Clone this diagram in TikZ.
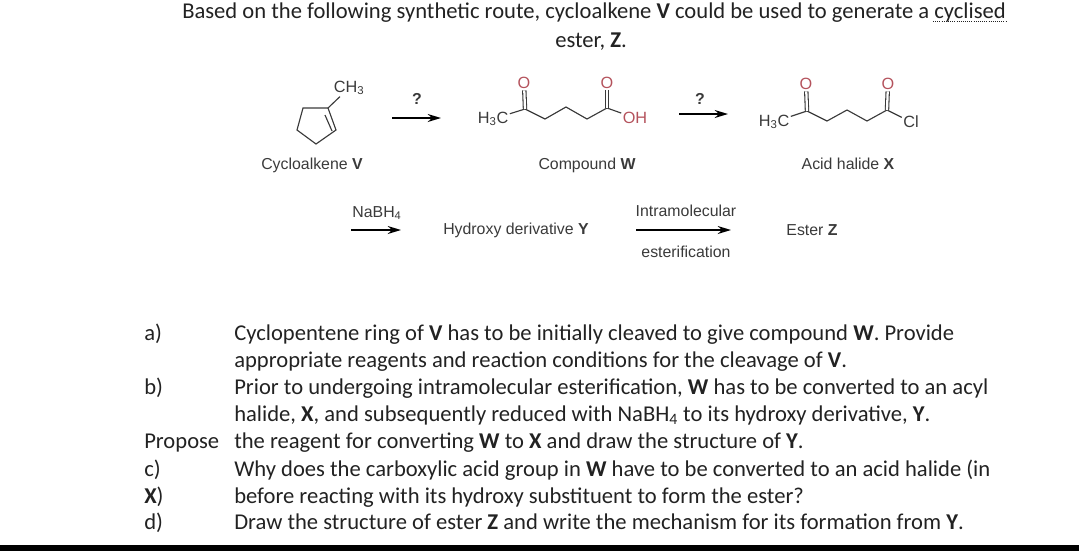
\documentclass[tikz,border=0pt]{standalone}
\usepackage{fontspec}
\setmainfont{Carlito}
\newfontfamily\chemfont{Liberation Sans}
\usetikzlibrary{arrows.meta}
\definecolor{inkgray}{HTML}{222222}
\definecolor{chemgray}{HTML}{3A3A3A}
\definecolor{oxred}{HTML}{B4525C}
\tikzset{
bodytext/.style={anchor=base west,inner sep=0pt,text=inkgray,font=\fontsize{16.95}{20}\selectfont},
chemtext/.style={inner sep=0pt,text=chemgray,font=\chemfont\fontsize{11.9}{14}\selectfont},
atomred/.style={inner sep=1pt,text=oxred,font=\chemfont\fontsize{12.2}{14}\selectfont},
atomgray/.style={inner sep=1pt,text=chemgray,font=\chemfont\fontsize{12.2}{14}\selectfont},
bond/.style={line width=.85pt,draw=chemgray},
dbond/.style={line width=.8pt,draw=chemgray,double=white,double distance=1.7pt},
rxn/.style={line width=1.1pt,draw=black,-{Stealth[length=10pt,width=6pt]}}
}
\begin{document}
\begin{tikzpicture}[x=.75pt,y=-.75pt]
\useasboundingbox (0,0)rectangle(1079,551);
\fill[black] (0,545)rectangle(1079,551);
\node[bodytext] (title1) at (182,18) {Based on the following synthetic route, cycloalkene \textbf{V} could be used to generate a cyclised};
\node[bodytext] (title2) at (555,47) {ester, \textbf{Z}.};
\draw[densely dotted,line width=.6pt,draw=inkgray] (title1.base east)++(-73,3)coordinate(sp1)--++(73,0)coordinate(sp2);
\coordinate (v1) at (328,108);
\coordinate (v2) at (336,130);
\coordinate (v3) at (316,144);
\coordinate (v4) at (297,130);
\coordinate (v5) at (303,108);
\coordinate (v6) at (325,115);
\coordinate (v7) at (332,131);
\node[atomgray] (me) at (349,88) {CH\textsubscript{3}};
\draw[bond] (v1)--(v2)--(v3)--(v4)--(v5)--(v1);
\draw[bond] (v1)--(me);
\draw[bond] (v6)--(v7);
\node[chemtext] (vname) at (312,165) {Cycloalkene \textbf{V}};
\coordinate (a1) at (392,118);
\coordinate (a2) at (441,118);
\draw[rxn] (a1)--(a2);
\node[chemtext] (q1) at (417,99) {\textbf{?}};
\node[atomgray] (wme) at (493,119) {H\textsubscript{3}C};
\coordinate (w1) at (525,109);
\coordinate (w2) at (545,119);
\coordinate (w3) at (566,107);
\coordinate (w4) at (587,119);
\coordinate (w5) at (607,108);
\node[atomred] (woa) at (524,83) {O};
\node[atomred] (wob) at (607,83) {O};
\node[atomred] (woh) at (635,118) {OH};
\draw[bond] (wme)--(w1)--(w2)--(w3)--(w4)--(w5)--(woh);
\draw[dbond] (w1)--(woa);
\draw[dbond] (w5)--(wob);
\node[chemtext] (wname) at (587,165) {Compound \textbf{W}};
\coordinate (b1) at (679,114);
\coordinate (b2) at (728,114);
\draw[rxn] (b1)--(b2);
\node[chemtext] (q2) at (700,99) {\textbf{?}};
\node[atomgray] (xme) at (774,122) {H\textsubscript{3}C};
\coordinate (x1) at (807,111);
\coordinate (x2) at (827,121);
\coordinate (x3) at (847,110);
\coordinate (x4) at (867,121);
\coordinate (x5) at (887,110);
\node[atomred] (xoa) at (806,84) {O};
\node[atomred] (xob) at (888,84) {O};
\node[atomgray] (xcl) at (911,122) {Cl};
\draw[bond] (xme)--(x1)--(x2)--(x3)--(x4)--(x5)--(xcl);
\draw[dbond] (x1)--(xoa);
\draw[dbond] (x5)--(xob);
\node[chemtext] (xname) at (848,164) {Acid halide \textbf{X}};
\coordinate (c1) at (351,230);
\coordinate (c2) at (401,230);
\draw[rxn] (c1)--(c2);
\node[chemtext] (nabh) at (377,213) {NaBH\textsubscript{4}};
\node[chemtext] (yname) at (516,230) {Hydroxy derivative \textbf{Y}};
\coordinate (d1) at (636,230);
\coordinate (d2) at (731,230);
\draw[rxn] (d1)--(d2);
\node[chemtext] (intra) at (686,211) {Intramolecular};
\node[chemtext] (ester) at (686,252) {esterification};
\node[chemtext] (zname) at (812,230) {Ester \textbf{Z}};
\foreach \i/\x/\y/\t in {
la/144/340/{a)},
lb/144/394/{b)},
lp/144/448/{Propose},
lc/144/476/{c)},
lx/144/503/{\textbf{X})},
ld/144/529/{d)},
t1/234/340/{Cyclopentene ring of \textbf{V} has to be initially cleaved to give compound \textbf{W}. Provide},
t2/234/367/{appropriate reagents and reaction conditions for the cleavage of \textbf{V}.},
t3/234/394/{Prior to undergoing intramolecular esterification, \textbf{W} has to be converted to an acyl},
t4/234/421/{halide, \textbf{X}, and subsequently reduced with NaBH\textsubscript{4} to its hydroxy derivative, \textbf{Y}.},
t5/234/448/{the reagent for converting \textbf{W} to \textbf{X} and draw the structure of \textbf{Y}.},
t6/234/476/{Why does the carboxylic acid group in \textbf{W} have to be converted to an acid halide (in},
t7/234/503/{before reacting with its hydroxy substituent to form the ester?},
t8/234/529/{Draw the structure of ester \textbf{Z} and write the mechanism for its formation from \textbf{Y}.}}
\node[bodytext] (\i) at (\x,\y) {\t};
\end{tikzpicture}
\end{document}
